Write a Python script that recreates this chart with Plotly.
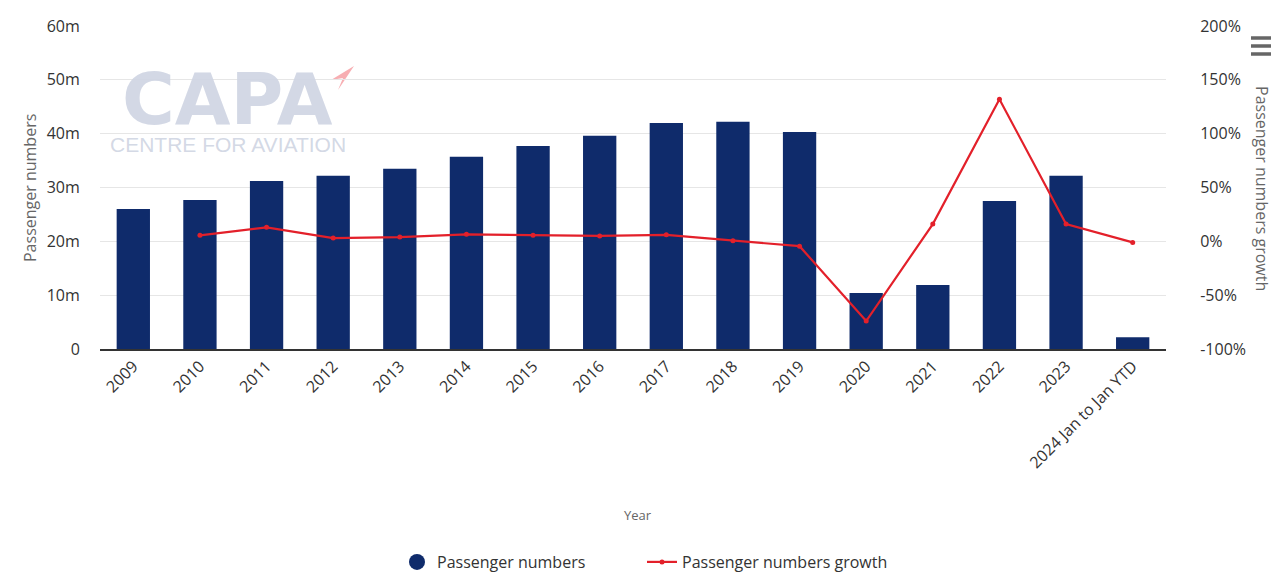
import plotly.graph_objects as go

years = ["2009", "2010", "2011", "2012", "2013", "2014", "2015", "2016", "2017",
         "2018", "2019", "2020", "2021", "2022", "2023", "2024 Jan to Jan YTD"]
passengers = [26.0, 27.7, 31.2, 32.2, 33.5, 35.7, 37.7, 39.6, 42.0,
              42.2, 40.3, 10.4, 11.9, 27.5, 32.2, 2.2]  # millions
growth = [None, 5.6, 13.0, 3.0, 4.0, 6.5, 5.6, 5.0, 6.0,
          0.5, -4.5, -74.0, 16.0, 132.0, 16.0, -1.0]  # percent

left_ticks = [0, 10, 20, 30, 40, 50, 60]
left_labels = ["0", "10m", "20m", "30m", "40m", "50m", "60m"]
right_ticks = [-100, -50, 0, 50, 100, 150, 200]
right_labels = ["-100%", "-50%", "0%", "50%", "100%", "150%", "200%"]

NAVY = "#0f2b6b"
RED = "#e3202a"
FONT = "Open Sans"

W, H = 1285, 583
L, R, T, B = 100, 119, 26, 234
pw, ph = W - L - R, H - T - B

def px2paper(x, y):
    return (x - L) / pw, (H - B - y) / ph

fig = go.Figure()
fig.add_trace(go.Bar(x=years, y=passengers, marker=dict(color=NAVY, line=dict(width=0)),
                     width=0.5, name="Passenger numbers", showlegend=False, yaxis="y"))
fig.add_trace(go.Scatter(x=[None], y=[None], mode="markers", name="Passenger numbers",
                         marker=dict(color=NAVY, size=17, symbol="circle"), yaxis="y"))
fig.add_trace(go.Scatter(x=years, y=growth, mode="lines+markers", name="Passenger numbers growth",
                         line=dict(color=RED, width=2.2), marker=dict(color=RED, size=5),
                         yaxis="y2", connectgaps=False))

fig.update_layout(
    width=W, height=H,
    margin=dict(l=L, r=R, t=T, b=B, autoexpand=False),
    paper_bgcolor="white", plot_bgcolor="white",
    font=dict(family=FONT, color="#333333"),
    bargap=0.5,
    xaxis=dict(type="category", tickangle=-45, tickfont=dict(size=16, color="#333333"),
               showgrid=False, showline=True, linecolor="#333333", linewidth=1.5,
               ticks="", range=[-0.5, 15.5], automargin=False),
    yaxis=dict(range=[0, 60], tickvals=left_ticks, ticktext=left_labels,
               tickfont=dict(size=16, color="#333333"), automargin=False,
               showgrid=True, gridcolor="#e6e6e6", gridwidth=1, zeroline=False,
               ticks="outside", ticklen=16, tickcolor="rgba(0,0,0,0)"),
    yaxis2=dict(range=[-100, 200], tickvals=right_ticks, ticktext=right_labels,
                overlaying="y", side="right", showgrid=False, zeroline=False,
                tickfont=dict(size=16, color="#333333"), automargin=False,
                ticks="outside", ticklen=30, tickcolor="rgba(0,0,0,0)"),
    legend=dict(orientation="h", xref="container", yref="container",
                x=397 / W, xanchor="left", y=(H - 562) / H, yanchor="middle",
                font=dict(size=16, color="#333333"), itemwidth=30,
                entrywidth=200, entrywidthmode="pixels",
                traceorder="normal"),
)

annotations = [
    dict(text="Passenger numbers", x=30, y=188, textangle=-90,
         font=dict(size=16, color="#666666")),
    dict(text="Passenger numbers growth", x=1262, y=188, textangle=90,
         font=dict(size=16, color="#666666")),
    dict(text="Year", x=638, y=515, font=dict(size=13, color="#666666")),
    dict(text="<b>CAPA</b>", x=227, y=99,
         font=dict(size=72, color="rgba(206,212,226,0.9)", family="DejaVu Sans")),
    dict(text="CENTRE FOR AVIATION", x=228, y=144,
         font=dict(size=21, color="rgba(206,212,226,0.9)", family="Liberation Sans")),
]
out = []
for a in annotations:
    a = dict(a)
    a["x"], a["y"] = px2paper(a["x"], a["y"])
    a.update(xref="paper", yref="paper", xanchor="center", yanchor="middle", showarrow=False)
    out.append(a)
fig.update_layout(annotations=out)

shapes = []
# watermark swoosh
pts = [(338, 90), (354, 66), (331, 80), (343, 78)]
pp = [px2paper(x, y) for x, y in pts]
path = "M " + " L ".join(f"{x:.5f} {y:.5f}" for x, y in pp) + " Z"
shapes.append(dict(type="path", xref="paper", yref="paper", path=path,
                   fillcolor="rgba(246,160,165,0.85)", line=dict(width=0), layer="below"))
# menu icon (three bars)
for yy in (38, 46, 54):
    x0, y0 = px2paper(1251, yy)
    x1, _ = px2paper(1271, yy)
    shapes.append(dict(type="line", xref="paper", yref="paper", x0=x0, x1=x1, y0=y0, y1=y0,
                       line=dict(color="#666666", width=3.5)))
fig.update_layout(shapes=shapes)

fig.write_html("out.html")
